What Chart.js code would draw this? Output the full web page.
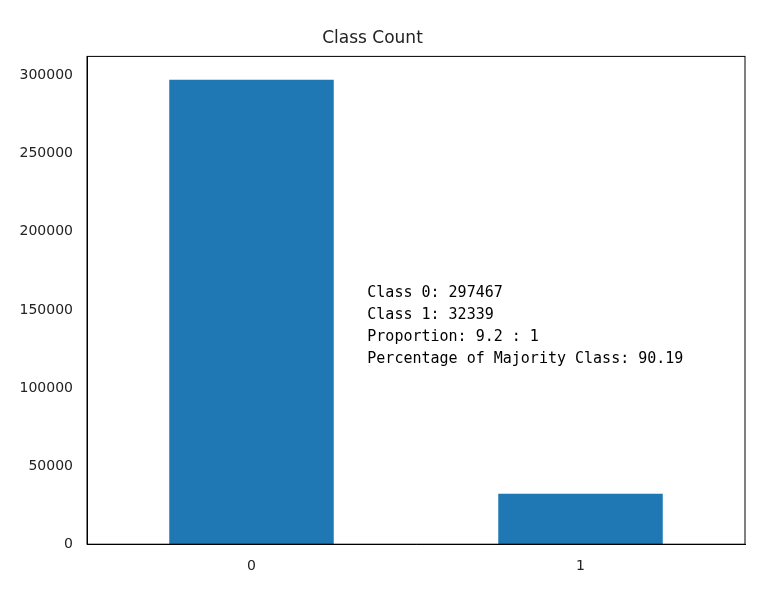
<!DOCTYPE html>
<html><head><meta charset="utf-8">
<script src="https://cdn.jsdelivr.net/npm/chart.js@4/dist/chart.umd.min.js"></script>
<style>html,body{margin:0;background:#fff}#w{width:773px;height:601px}</style>
</head><body><div id="w"><canvas id="c"></canvas></div>
<script>
const categories = ["0", "1"];
const counts = [297467, 32339];
const yTicks = [0, 50000, 100000, 150000, 200000, 250000, 300000];
const annotation = ["Class 0: 297467", "Class 1: 32339", "Proportion: 9.2 : 1", "Percentage of Majority Class: 90.19"];

const textPlugin = {
  id: 'txt',
  afterDraw(chart) {
    const ctx = chart.ctx, x = chart.scales.x, y = chart.scales.y;
    const px = x.left + (x.right - x.left) * 0.426;
    const py = y.getPixelForValue(158000);
    ctx.save();
    ctx.font = '15px "DejaVu Sans Mono"';
    ctx.fillStyle = '#000';
    ctx.textBaseline = 'alphabetic';
    annotation.forEach((t, i) => ctx.fillText(t, px, py + i * 22));
    ctx.restore();
  }
};
const framePlugin = {
  id: 'frame',
  afterDraw(chart) {
    const a = chart.chartArea, ctx = chart.ctx;
    ctx.save(); ctx.strokeStyle = '#000'; ctx.lineWidth = 1;
    ctx.strokeRect(a.left, a.top, a.right - a.left, a.bottom - a.top);
    ctx.restore();
  }
};
new Chart(document.getElementById('c'), {
  type: 'bar',
  data: { labels: categories, datasets: [{ data: counts, backgroundColor: '#1f77b4', barPercentage: 0.5, categoryPercentage: 1 }] },
  options: {
    responsive: true, maintainAspectRatio: false, animation: false,
    layout: { padding: { left: 0, right: 28, top: 10, bottom: 20 } },
    plugins: { legend: { display: false }, tooltip: { enabled: false },
      title: { display: true, text: 'Class Count', color: '#222', font: { family: 'DejaVu Sans', size: 17, weight: 'normal' }, padding: { top: 18, bottom: 8 } } },
    scales: {
      x: { grid: { display: false, drawTicks: true }, border: { color: '#000' },
           ticks: { color: '#222', font: { family: 'DejaVu Sans', size: 14 }, padding: 6 } },
      y: { min: 0, max: 312340, grid: { display: false }, border: { color: '#000' },
           afterBuildTicks: s => { s.ticks = yTicks.map(v => ({ value: v })); },
           afterFit: s => { s.width = 87; },
           ticks: { color: '#222', font: { family: 'DejaVu Sans', size: 14 }, callback: v => String(v), padding: 6 } }
    }
  },
  plugins: [textPlugin, framePlugin]
});
</script></body></html>
